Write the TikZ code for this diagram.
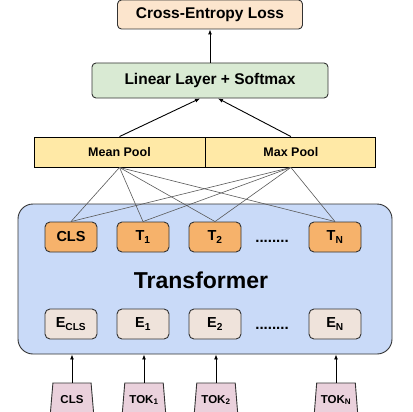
\documentclass[tikz,border=0pt]{standalone}
\usepackage{fontspec}
\setmainfont{Liberation Sans}
\usepackage{xcolor}
\usepackage{tikz}
\usetikzlibrary{arrows.meta, positioning, shapes.geometric}

\definecolor{lossfill}{HTML}{FCE5CD}
\definecolor{linfill}{HTML}{D9EAD3}
\definecolor{poolfill}{HTML}{FFE9A6}
\definecolor{tffill}{HTML}{C9DAF8}
\definecolor{outfill}{HTML}{F6B26B}
\definecolor{embfill}{HTML}{EFE3DB}
\definecolor{tokfill}{HTML}{EAD1DC}
\definecolor{edgegray}{HTML}{333333}

\begin{document}
\begin{tikzpicture}[
        x=1pt, y=-1pt,
        headbox/.style={
            draw=edgegray,
            rectangle,
            rounded corners=4pt,
            line width=0.9pt,
            inner sep=0pt,
            font=\bfseries\fontsize{15.5}{18}\selectfont
        },
        poolbox/.style={
            draw=black,
            rectangle,
            line width=0.9pt,
            fill=poolfill,
            minimum height=30pt,
            inner sep=0pt,
            font=\bfseries\fontsize{12.5}{15}\selectfont
        },
        cellbox/.style={
            draw=edgegray,
            rectangle,
            rounded corners=5pt,
            line width=0.9pt,
            minimum width=52pt,
            minimum height=30pt,
            inner sep=0pt,
            font=\bfseries\fontsize{14.5}{17}\selectfont
        },
        tokbox/.style={
            draw=edgegray,
            trapezium,
            trapezium angle=78,
            trapezium stretches=true,
            line width=0.9pt,
            fill=tokfill,
            minimum width=44pt,
            minimum height=34pt,
            inner sep=0pt,
            outer sep=0pt,
            anchor=north,
            font=\bfseries\fontsize{11.5}{13}\selectfont
        },
        dotrow/.style={font=\bfseries\fontsize{15}{17}\selectfont},
        wire/.style={draw=black!65, line width=0.6pt},
        uparrow/.style={-{Latex[length=5pt, width=4pt]}, line width=0.9pt}
    ]
        \useasboundingbox (0,0) rectangle (412,412);

        % output head
        \node[headbox, fill=lossfill, minimum width=185pt, minimum height=29pt] (loss) at (210,14.5) {Cross-Entropy Loss};
        \node[headbox, fill=linfill, minimum width=236pt, minimum height=35pt] (linear) at (210,80.5) {Linear Layer + Softmax};

        % pooling
        \node[poolbox, minimum width=171pt] (mean) at (119.5,152) {Mean Pool};
        \node[poolbox, minimum width=170pt, anchor=west] (max) at (mean.east) {Max Pool};

        % transformer block
        \node[draw=edgegray, rounded corners=15pt, line width=0.9pt, fill=tffill,
              minimum width=374pt, minimum height=150pt] (tf) at (205,279) {};
        \node[font=\bfseries\fontsize{23}{27}\selectfont] (tflabel) at (201,280) {Transformer};

        \node[cellbox, fill=outfill] (tcls) at (71,237) {CLS};
        \node[cellbox, fill=outfill] (t1) at (143,237) {T\textsubscript{1}};
        \node[cellbox, fill=outfill] (t2) at (215,237) {T\textsubscript{2}};
        \node[cellbox, fill=outfill] (tn) at (335,237) {T\textsubscript{N}};
        \node[dotrow] (tdots) at (272,241) {........};

        \node[cellbox, fill=embfill] (ecls) at (71,324) {E\textsubscript{CLS}};
        \node[cellbox, fill=embfill] (e1) at (143,324) {E\textsubscript{1}};
        \node[cellbox, fill=embfill] (e2) at (215,324) {E\textsubscript{2}};
        \node[cellbox, fill=embfill] (en) at (335,324) {E\textsubscript{N}};
        \node[dotrow] (edots) at (272,328) {........};

        % input tokens
        \node[tokbox] (kcls) at (72,383) {CLS};
        \node[tokbox] (k1) at (144,383) {TOK\textsubscript{1}};
        \node[tokbox] (k2) at (216,383) {TOK\textsubscript{2}};
        \node[tokbox] (kn) at (336,383) {TOK\textsubscript{N}};

        \foreach \k in {kcls, k1, k2, kn}
            \draw[uparrow] (\k.north) -- (\k.north |- tf.south);

        % pooling wires
        \foreach \t in {tcls, t1, t2, tn} {
            \draw[wire] (mean.south) -- (\t.north);
            \draw[wire] (max.south) -- (\t.north);
        }

        \draw[uparrow] (mean.north) -- ([xshift=-10pt]linear.south);
        \draw[uparrow] (max.north) -- ([xshift=8pt]linear.south);
        \draw[uparrow] (linear.north) -- (loss.south);
    \end{tikzpicture}
\end{document}
